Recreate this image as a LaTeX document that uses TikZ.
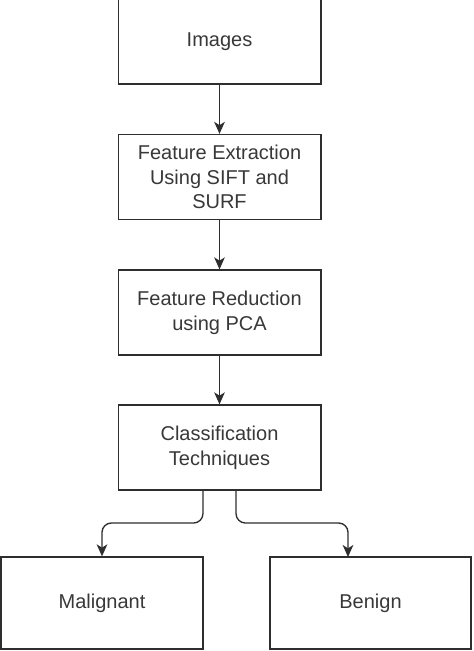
\documentclass[tikz,border=0pt]{standalone}
\usepackage{fontspec}
\setmainfont{Liberation Sans}
\usetikzlibrary{arrows.meta}
\definecolor{linegray}{gray}{0.18}
\definecolor{textgray}{gray}{0.22}

\begin{document}
\begin{tikzpicture}[x=0.75pt,y=-0.75pt,
    box/.style={draw=linegray,line width=1pt,minimum width=152pt,minimum height=63.75pt,
      align=center,text=textgray,font=\fontsize{15}{18.5}\selectfont,inner sep=0pt},
    link/.style={draw=linegray,line width=1pt,-{Stealth[length=9pt,width=8pt,inset=2.5pt]}}]
          \useasboundingbox (0,0) rectangle (474,651);
          \node[box] (img) at (219.5,41.5) {\raisebox{-2pt}{Images}};
          \node[box] (fe) at (219.5,177) {Feature Extraction\\Using SIFT and\\SURF};
          \node[box] (fr) at (219.5,312.5) {Feature Reduction\\using PCA};
          \node[box] (cls) at (219.5,447.5) {Classification\\Techniques};
          \node[box,minimum width=151.5pt,minimum height=69pt] (mal) at (102,603) {Malignant};
          \node[box,minimum width=150.75pt,minimum height=69pt] (ben) at (370.5,603) {Benign};
          \coordinate (split) at (219.5,523);
          \coordinate (benin) at (348,557);
          \draw[link] (img) -- (fe);
          \draw[link] (fe) -- (fr);
          \draw[link] (fr) -- (cls);
          \draw[link,rounded corners=7pt] ([xshift=-12.4pt]cls.south) |- (split -| mal.north) -- (mal.north);
          \draw[link,rounded corners=7pt] ([xshift=12.4pt]cls.south) |- (split -| benin) -- (benin);
\end{tikzpicture}
\end{document}
